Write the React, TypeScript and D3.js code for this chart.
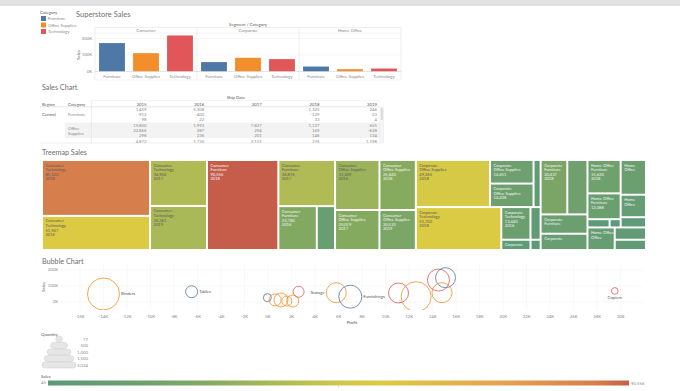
import React from "react";
import * as d3 from "d3";

const FONT = "Lato, 'Open Sans', sans-serif";

// ---- bar chart data (Superstore Sales)
const segments = ["Consumer", "Corporate", "Home Office"];
const categories = ["Furniture", "Office Supplies", "Technology"];
const categoryColors = ["#4e79a7", "#f28e2b", "#e15759"];
const consumerSales = [172000, 111000, 218000];
const corporateSales = [57000, 83000, 75000];
const homeOfficeSales = [30000, 14000, 18000];
const salesTicks = [0, 100000, 200000];

// ---- table data (Sales Chart)
const shipYears = ["2015", "2016", "2017", "2018", "2019"];
const tableCategories = ["Furniture", "Office Supplies", "Technology"];
const furnitureRows = [
  ["1,459", "5,308", "", "1,325", "246"],
  ["-912", "-400", "", "-129", "-23"],
  ["98", "22", "", "33", "4"],
];
const officeRows = [
  ["19,800", "1,993", "7,827", "1,127", "655"],
  ["22,866", "287", "294", "169", "-628"],
  ["298", "236", "201", "146", "134"],
];
const technologyRows = [
  ["4,872", "1,726", "2,131", "276", "1,198"],
  ["-325", "118", "342", "51", "140"],
  ["61", "45", "38", "22", "19"],
];

// ---- treemap data
const tmSegments = [
  "Consumer", "Consumer", "Consumer", "Consumer", "Consumer", "Consumer", "Consumer", "Consumer",
  "Consumer", "Consumer", "Consumer", "Consumer",
  "Corporate", "Corporate", "Corporate", "Corporate", "Corporate", "Corporate", "Corporate", "Corporate", "Corporate",
  "Corporate", "Corporate", "Corporate", "Corporate",
  "Home Office", "Home Office", "Home Office", "Home Office", "Home Office", "Home Office", "Home Office",
  "Home Office", "Home Office", "Home Office",
];
const tmCategories = [
  "Technology", "Technology", "Technology", "Technology", "Furniture", "Furniture", "Furniture", "Furniture",
  "Office Supplies", "Office Supplies", "Office Supplies", "Office Supplies",
  "Office Supplies", "Office Supplies", "Office Supplies", "Office Supplies", "Technology", "Technology", "Technology", "Technology", "Technology",
  "Furniture", "Furniture", "Furniture", "Furniture",
  "Furniture", "Furniture", "Furniture", "Furniture", "Office Supplies", "Office Supplies", "Office Supplies",
  "Office Supplies", "Technology", "Technology",
];
const tmYears = [
  "2018", "2016", "2017", "2019", "2018", "2017", "2016", "2019",
  "2016", "2018", "2017", "2019",
  "2018", "2016", "2017", "2019", "2018", "2016", "2017", "2019", "2015",
  "2018", "2016", "2017", "2019",
  "2018", "2016", "2017", "2019", "2018", "2016", "2017",
  "2019", "2016", "2017",
];
const tmSales = [
  85120, 51947, 36904, 35361, 90556, 36876, 23780, 11287,
  31309, 25640, 25019, 20533,
  49265, 14451, 14438, 4700, 51702, 13440, 4672, 4234, 1460,
  20437, 15476, 12760, 10746,
  15620, 12088, 2570, 1285, 12410, 8030, 3650,
  8672, 5431, 4526,
];
const tmLabelLines = [
  4, 4, 4, 4, 4, 4, 4, 0,
  4, 4, 4, 4,
  4, 3, 3, 0, 4, 4, 0, 1, 0,
  4, 0, 2, 1,
  4, 3, 0, 0, 2, 2, 0,
  2, 0, 0,
];
// nesting of the cells (slice / dice alternate by depth)
const tmNesting: any[] = [
  [0, 1],
  [2, 3],
  [4],
  [5, [6, 7]],
  [[8, 9], [10, 11]],
  [[12, [13, 14], 15], [16, [[17, 18], [19, 20]]]],
  [[21, 22], 23, 24],
  [[[25, 26, [27, 28]], [29, 30, 31]], [32, [33, 34]]],
];
const salesStops = [45, 15000, 25000, 35000, 45000, 52000, 70000, 85000, 90556];
const salesPalette = ["#5a997a", "#6ea06e", "#84aa5f", "#a9b957", "#cdc64b", "#dccb42", "#e6a44f", "#d6804d", "#c65d4a"];

// ---- bubble chart data
const subCategories = ["Binders", "Tables", "Bookcases", "Appliances", "Art", "Envelopes", "Fasteners", "Machines",
  "Storage", "Furnishings", "Accessories", "Paper", "Phones", "Chairs", "Labels", "Copiers"];
const subCategoryOf = [1, 0, 0, 1, 1, 1, 1, 2, 1, 0, 2, 1, 2, 0, 1, 2];
const subProfit = [-14000, -6500, -60, 600, 1100, 1600, 2100, 2600, 5800, 7000, 11100, 12600, 14500, 15100, 14800, 29500];
const subSales = [50000, 64000, 27000, 12500, 12500, 6000, 6000, 64000, 58000, 33000, 56000, 33000, 137000, 152000, 58000, 69000];
const subQuantity = [1793, 252, 112, 252, 343, 175, 252, 212, 700, 926, 700, 1576, 847, 700, 700, 77];
const subLabelSide = ["right", "right", "", "", "", "", "", "", "left", "right", "", "", "", "", "", "below"];
const quantityLegend = [77, 500, 1000, 1500, 2024];

const fmtK = (v: number) => `${v / 1000}K`;
const fmtN = d3.format(",");

const wrapWords = (text: string, maxW: number, cw: number) => {
  const out: string[] = [];
  let cur = "";
  text.split(" ").forEach((w) => {
    const t = cur ? cur + " " + w : w;
    if (t.length * cw > maxW && cur) {
      out.push(cur);
      cur = w;
    } else cur = t;
  });
  if (cur) out.push(cur);
  return out;
};

export default function App() {
  // ---------- bar chart scales
  const segX = d3.scaleBand().domain(segments).range([95, 401]);
  const catX = d3.scaleBand().domain(categories).range([0, segX.bandwidth()]).paddingInner(0.24).paddingOuter(0.12);
  const barY = d3.scaleLinear().domain([0, 233000]).range([71.5, 33]);
  const segSales = [consumerSales, corporateSales, homeOfficeSales];

  // ---------- table scales
  const yearX = d3.scaleBand().domain(shipYears).range([92, 380]);
  const tableRows = [furnitureRows, officeRows, technologyRows];
  const groupTop = (i: number) => 106.5 + i * 16;

  // ---------- treemap
  const build = (n: any): any => (Array.isArray(n) ? { children: n.map(build) } : { idx: n, value: tmSales[n] });
  const root = d3.hierarchy(build(tmNesting)).sum((d: any) => (d.children ? 0 : d.value));
  d3.treemap().tile(d3.treemapSliceDice).size([602, 88]).paddingInner(2)(root as any);
  const tmColor = d3.scaleLinear<string>().domain(salesStops).range(salesPalette);
  const leaves = root.leaves() as any[];

  // ---------- bubble scales
  const bx = d3.scaleLinear().domain([-17700, 31900]).range([60, 643]);
  const by = d3.scaleLinear().domain([-44000, 225000]).range([309, 266]);
  const br = d3.scaleSqrt().domain([0, 2024]).range([0, 17]);
  const xTicks = d3.range(-16000, 30001, 2000);

  const legendX = d3.scaleLinear().domain([45, 90556]).range([48, 629]);

  const gray = "#8a8a8a";
  const dark = "#555";
  const title = "#6f6f6f";
  const small = 4.3;

  return (
    <svg width={680} height={391} style={{ position: "fixed", left: 0, top: 0, display: "block" }} fontFamily={FONT}>
      <defs>
        <clipPath id="tableClip"><rect x={38} y={95} width={350} height={48} /></clipPath>
        <clipPath id="bubbleClip"><rect x={60} y={262} width={583} height={48} /></clipPath>
        <linearGradient id="salesGrad" x1="0" x2="1" y1="0" y2="0">
          {salesStops.map((v, i) => (
            <stop key={i} offset={(legendX(v) - 48) / 581} stopColor={salesPalette[i]} />
          ))}
        </linearGradient>
      </defs>
      <rect width={680} height={391} fill="#fff" />
      <rect width={680} height={4.5} fill="#e2e2e2" />
      <line x1={0} x2={680} y1={5} y2={5} stroke="#c9c9c9" />

      {/* ---------- legend: Category */}
      <text x={40} y={14} fontSize={4.3} fill={dark}>Category</text>
      {categories.map((c, i) => (
        <g key={c}>
          <rect x={41} y={16 + i * 6.5} width={5} height={5} fill={categoryColors[i]} />
          <text x={48} y={20 + i * 6.5} fontSize={small} fill={gray}>{c}</text>
        </g>
      ))}

      {/* ---------- Superstore Sales */}
      <text x={76} y={17} fontSize={7.5} fill={title}>Superstore Sales</text>
      <text x={248} y={25.5} fontSize={small} fill={dark} textAnchor="middle">Segment / Category</text>
      <line x1={95} x2={401} y1={27.5} y2={27.5} stroke="#e2e2e2" strokeWidth={0.6} />
      <line x1={95} x2={401} y1={33} y2={33} stroke="#ececec" strokeWidth={0.6} />
      {salesTicks.slice(1).map((t) => (
        <line key={t} x1={95} x2={401} y1={barY(t)} y2={barY(t)} stroke="#f2f2f2" strokeWidth={0.6} />
      ))}
      {segments.map((s, si) => (
        <g key={s}>
          <text x={(segX(s) as number) + segX.bandwidth() / 2} y={31.8} fontSize={small} fill={gray} textAnchor="middle">{s}</text>
          <line x1={segX(s)} x2={segX(s)} y1={27.5} y2={80} stroke="#e2e2e2" strokeWidth={0.6} />
          {categories.map((c, ci) => (
            <g key={c}>
              <rect
                x={(segX(s) as number) + (catX(c) as number)}
                y={barY(segSales[si][ci])}
                width={catX.bandwidth()}
                height={barY(0) - barY(segSales[si][ci])}
                fill={categoryColors[ci]}
              />
              <text x={(segX(s) as number) + (catX(c) as number) + catX.bandwidth() / 2} y={77.5} fontSize={small} fill={gray} textAnchor="middle">{c}</text>
            </g>
          ))}
        </g>
      ))}
      <line x1={401} x2={401} y1={27.5} y2={80} stroke="#e2e2e2" strokeWidth={0.6} />
      <line x1={95} x2={401} y1={barY(0)} y2={barY(0)} stroke="#d4d4d4" strokeWidth={0.6} />
      <line x1={95} x2={401} y1={80} y2={80} stroke="#f0f0f0" strokeWidth={0.6} />
      {salesTicks.map((t) => (
        <text key={t} x={92} y={barY(t) + 1.5} fontSize={small} fill={gray} textAnchor="end">{fmtK(t)}</text>
      ))}
      <text transform="translate(80,55) rotate(-90)" fontSize={small} fill={dark} textAnchor="middle">Sales</text>

      {/* ---------- Sales Chart table */}
      <text x={42} y={90} fontSize={7.2} fill={title}>Sales Chart</text>
      <text x={236} y={99} fontSize={small} fill={dark} textAnchor="middle">Ship Date</text>
      <line x1={92} x2={380} y1={100.5} y2={100.5} stroke="#ececec" strokeWidth={0.6} />
      <text x={42} y={105.5} fontSize={small} fill={dark}>Region</text>
      <text x={68} y={105.5} fontSize={small} fill={dark}>Category</text>
      {shipYears.map((y) => (
        <text key={y} x={(yearX(y) as number) + yearX.bandwidth() - 3} y={105.5} fontSize={small} fill={dark} textAnchor="end">{y}</text>
      ))}
      <line x1={40} x2={380} y1={106.8} y2={106.8} stroke="#d4d4d4" strokeWidth={0.6} />
      <g clipPath="url(#tableClip)">
        <rect x={65} y={groupTop(1)} width={315} height={15.5} fill="#f3f3f3" />
        <text x={42} y={116} fontSize={small} fill={dark}>Central</text>
        {tableCategories.map((c, gi) => {
          const lines = wrapWords(c, 20, 2.1);
          const mid = groupTop(gi) + 8;
          return (
            <g key={c}>
              {lines.map((l, li) => (
                <text key={l} x={68} y={mid + 1.5 + (li - (lines.length - 1) / 2) * 5} fontSize={small} fill={gray}>{l}</text>
              ))}
              {tableRows[gi].map((row, ri) =>
                row.map((v, yi) => (
                  <text key={ri + "-" + yi} x={(yearX(shipYears[yi]) as number) + yearX.bandwidth() - 3} y={groupTop(gi) + 4 + ri * 5} fontSize={small} fill={gray} textAnchor="end">{v}</text>
                ))
              )}
            </g>
          );
        })}
      </g>
      <line x1={91.5} x2={91.5} y1={100.5} y2={143} stroke="#e2e2e2" strokeWidth={0.6} />
      <line x1={40} x2={380} y1={143} y2={143} stroke="#e2e2e2" strokeWidth={0.6} />
      <rect x={380} y={107} width={3.5} height={36} fill="#f6f6f6" stroke="#e0e0e0" strokeWidth={0.4} />
      <rect x={380.8} y={108} width={2} height={12} fill="#dadada" />

      {/* ---------- Treemap */}
      <text x={42} y={155} fontSize={7.2} fill={title}>Treemap Sales</text>
      <g transform="translate(43,161)">
        {leaves.map((n) => {
          const i = n.data.idx;
          const w = n.x1 - n.x0;
          const h = n.y1 - n.y0;
          const v = tmSales[i];
          const txt = v < 30000 || v > 88000 ? "#f4f4f4" : "#5a5a5a";
          const lines = [
            ...wrapWords(tmSegments[i], w - 2, 2.1),
            ...wrapWords(tmCategories[i], w - 2, 2.1),
            fmtN(v),
            tmYears[i],
          ].slice(0, tmLabelLines[i]);
          return (
            <g key={i}>
              <rect x={n.x0} y={n.y0} width={w} height={h} fill={tmColor(v)} />
              {lines.map((l, li) => (
                <text key={li} x={n.x0 + 2.5} y={n.y0 + 5.5 + li * 4.6} fontSize={4.1} fill={txt}>{l}</text>
              ))}
            </g>
          );
        })}
      </g>

      {/* ---------- Bubble chart */}
      <text x={42} y={264} fontSize={7.2} fill={title}>Bubble Chart</text>
      {xTicks.map((t) => (
        <g key={t}>
          <line x1={bx(t)} x2={bx(t)} y1={264} y2={310} stroke="#f3f3f3" strokeWidth={0.6} />
          <text x={bx(t)} y={318} fontSize={small} fill={gray} textAnchor="middle">{fmtK(t)}</text>
        </g>
      ))}
      {salesTicks.map((t) => (
        <g key={t}>
          <line x1={60} x2={643} y1={by(t)} y2={by(t)} stroke="#f3f3f3" strokeWidth={0.6} />
          <text x={58} y={by(t) + 1.5} fontSize={small} fill={gray} textAnchor="end">{fmtK(t)}</text>
        </g>
      ))}
      <text transform="translate(45,287) rotate(-90)" fontSize={small} fill={dark} textAnchor="middle">Sales</text>
      <text x={352} y={323.5} fontSize={small} fill={dark} textAnchor="middle">Profit</text>
      <g clipPath="url(#bubbleClip)">
        {subCategories.map((s, i) => (
          <circle key={s} cx={bx(subProfit[i])} cy={by(subSales[i])} r={br(subQuantity[i])} fill="none"
            stroke={categoryColors[subCategoryOf[i]]} strokeOpacity={0.8} strokeWidth={1} />
        ))}
      </g>
      {subCategories.map((s, i) => {
        const side = subLabelSide[i];
        if (!side) return null;
        const cx = bx(subProfit[i]);
        const cy = by(subSales[i]);
        const r = br(subQuantity[i]);
        if (side === "below")
          return <text key={s} x={cx} y={cy + r + 4.5} fontSize={small} fill={dark} textAnchor="middle">{s}</text>;
        return (
          <text key={s} x={side === "right" ? cx + r + 1.5 : cx - r - 1.5} y={cy + 1.5} fontSize={small} fill={dark}
            textAnchor={side === "right" ? "start" : "end"}>{s}</text>
        );
      })}

      {/* ---------- Quantity legend */}
      <text x={41} y={335.5} fontSize={small} fill={dark}>Quantity</text>
      {quantityLegend.map((q, i) => {
        const r = br(q);
        const cy = 339 + i * 6.5;
        return (
          <g key={q}>
            <rect x={59 - r} y={cy - 3} width={2 * r} height={6} rx={Math.min(r, 3)} fill="#e6e6e6" stroke="#cdcdcd" strokeWidth={0.5} />
            <text x={88} y={cy + 1.5} fontSize={small} fill={gray} textAnchor="end">{fmtN(q)}</text>
          </g>
        );
      })}

      {/* ---------- Sales colour legend */}
      <text x={41} y={378} fontSize={small} fill={dark}>Sales</text>
      <text x={41} y={384} fontSize={small} fill={gray}>{fmtN(45)}</text>
      <rect x={legendX(45)} y={380.5} width={legendX(90556) - legendX(45)} height={5} fill="url(#salesGrad)" />
      <line x1={legendX(45300)} x2={legendX(45300)} y1={385.5} y2={387.5} stroke="#aaa" strokeWidth={0.5} />
      <text x={631} y={384.5} fontSize={small} fill={gray}>{fmtN(90556)}</text>
    </svg>
  );
}
